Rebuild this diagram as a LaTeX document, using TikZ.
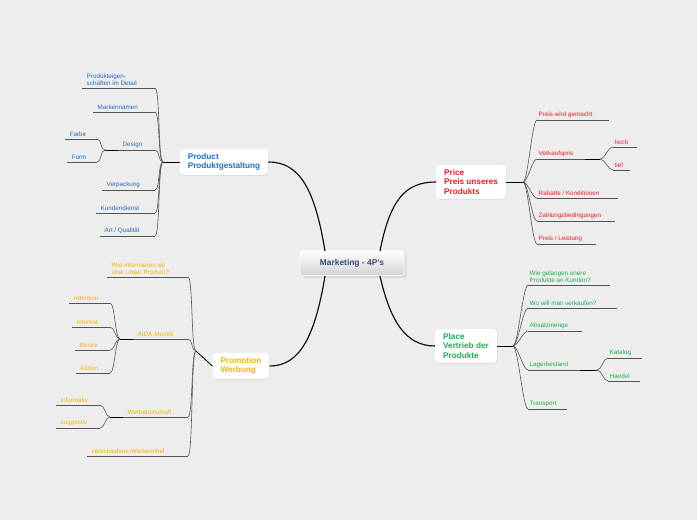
\documentclass[tikz,border=0pt]{standalone}
\usepackage{fontspec}
\setmainfont{Liberation Sans}
\usetikzlibrary{shadows,calc}
\definecolor{cbg}{HTML}{EDEDED}
\definecolor{cprod}{HTML}{1F6FC0}
\definecolor{cprice}{HTML}{EE1C24}
\definecolor{cprom}{HTML}{F7B500}
\definecolor{cplace}{HTML}{1DB04E}
\definecolor{cline}{HTML}{555555}
\definecolor{cnavy}{HTML}{3A4A7A}
\tikzset{
 leaf/.style={font=\fontsize{6.3}{7.5}\selectfont, inner sep=0.5pt},
 mainbox/.style={draw=none, fill=white, rounded corners=4pt, font=\bfseries\fontsize{8.2}{9.4}\selectfont, align=left, inner xsep=8pt, inner ysep=4.5pt, drop shadow={opacity=0.18, shadow xshift=0.5pt, shadow yshift=-0.8pt}},
 brl/.style={cline, line width=0.6pt},
 mainl/.style={black, line width=1.1pt},
}
% leaf: name, xleft, xright, y, text, colour, junction
\newcommand\Lleaf[7]{%
 \coordinate (#1s) at (#2,#4); \coordinate (#1e) at (#3,#4);
 \node[leaf, text=#6, anchor=south west, align=left] (#1) at (#2+4,#4-1.5) {#5};
 \draw[brl] (#1s) -- (#1e);
 \draw[brl] (#7) .. controls ($(#7)+(-5,0)$) and ($(#1e)+(5,0)$) .. (#1e);}
\newcommand\Rleaf[7]{%
 \coordinate (#1s) at (#2,#4); \coordinate (#1e) at (#3,#4);
 \node[leaf, text=#6, anchor=south west, align=left] (#1) at (#2+1,#4-1.5) {#5};
 \draw[brl] (#1s) -- (#1e);
 \draw[brl] (#7) .. controls ($(#7)+(5,0)$) and ($(#1s)+(-5,0)$) .. (#1s);}
\begin{document}
\begin{tikzpicture}[x=1pt,y=-1pt]
\fill[cbg] (0,0) rectangle (697,520);
\useasboundingbox (0,0) rectangle (697,520);
\node[draw=white, line width=0.5pt, rounded corners=3pt, top color=white, bottom color=gray!35, minimum width=104pt, minimum height=25pt, font=\bfseries\fontsize{8.4}{9}\selectfont, text=cnavy, drop shadow={opacity=0.15}] (c) at (352,263) {Marketing - 4P's};
\node[mainbox, text=cprod] (prod) at (224,162) {Product\\Produktgestaltung};
\node[mainbox, text=cprice] (price) at (471,182) {Price\\Preis unseres\\Produkts};
\node[mainbox, text=cprom] (prom) at (241,366) {Promotion\\Werbung};
\node[mainbox, text=cplace] (place) at (466,346) {Place\\Vertrieb der\\Produkte};
\coordinate (c1) at (325,251); \coordinate (c2) at (380,251);
\coordinate (c3) at (325,276); \coordinate (c4) at (380,276);
\draw[mainl] (c1) .. controls (315,190) and (300,162) .. (prod.east);
\draw[mainl] (c2) .. controls (390,200) and (405,182) .. (price.west);
\draw[mainl] (c3) .. controls (315,336) and (300,366) .. (prom.east);
\draw[mainl] (c4) .. controls (390,320) and (405,346) .. (place.west);
\coordinate (pj) at (163,162); \draw[mainl, line width=0.8pt] (prod.west) -- (pj);
\coordinate (rj) at (523,182); \draw[mainl, line width=0.8pt] (price.east) -- (rj);
\coordinate (mj) at (196,351); \draw[mainl, line width=0.8pt] (prom.west) -- (mj);
\coordinate (lj) at (513,346); \draw[mainl, line width=0.8pt] (place.east) -- (lj);
% Product
\Lleaf{p1}{82}{155}{88}{Produkteigen-\\schaften im Detail}{cprod}{pj}
\Lleaf{p2}{93}{155}{112}{Markennamen}{cprod}{pj}
\Lleaf{p3}{118}{155}{150}{Design}{cprod}{pj}
\Lleaf{p4}{102}{155}{190}{Verpackung}{cprod}{pj}
\Lleaf{p5}{96}{155}{213}{Kundendienst}{cprod}{pj}
\Lleaf{p6}{100}{155}{236}{Art / Qualität}{cprod}{pj}
\coordinate (dj) at (105,150); \draw[mainl,line width=0.8pt] (p3s) -- (dj);
\Lleaf{p31}{65}{97}{139}{Farbe}{cprod}{dj}
\Lleaf{p32}{67}{97}{162}{Form}{cprod}{dj}
% Promotion
\Lleaf{m1}{107}{188}{277}{Wie informieren wir\\über unser Produkt?}{cprom}{mj}
\Lleaf{m2}{133}{188}{339}{AIDA-Modell}{cprom}{mj}
\Lleaf{m3}{123}{188}{417}{Werbebotschaft}{cprom}{mj}
\Lleaf{m4}{87}{188}{456}{verschiedene Werbemittel}{cprom}{mj}
\coordinate (aj) at (120,339); \draw[mainl,line width=0.8pt] (m2s) -- (aj);
\Lleaf{m21}{69}{110}{303}{Attention}{cprom}{aj}
\Lleaf{m22}{72}{110}{327}{Interest}{cprom}{aj}
\Lleaf{m23}{75}{110}{350}{Desire}{cprom}{aj}
\Lleaf{m24}{76}{110}{373}{Action}{cprom}{aj}
\coordinate (wj) at (110,417); \draw[mainl,line width=0.8pt] (m3s) -- (wj);
\Lleaf{m31}{56}{100}{405}{informativ}{cprom}{wj}
\Lleaf{m32}{56}{100}{428}{suggestiv}{cprom}{wj}
% Price
\Rleaf{r1}{537}{609}{120}{Preis wird gemacht}{cprice}{rj}
\Rleaf{r2}{537}{585}{159}{Verkaufspris}{cprice}{rj}
\Rleaf{r3}{537}{618}{198}{Rabatte / Konditionen}{cprice}{rj}
\Rleaf{r4}{537}{615}{221}{Zahlungsbedingungen}{cprice}{rj}
\Rleaf{r5}{537}{596}{244}{Preis / Leistung}{cprice}{rj}
\coordinate (vj) at (600,159); \draw[mainl,line width=0.8pt] (r2e) -- (vj);
\Rleaf{r21}{613}{637}{147}{hoch}{cprice}{vj}
\Rleaf{r22}{613}{630}{170}{tief}{cprice}{vj}
% Place
\Rleaf{l1}{528}{610}{285}{Wie gelangen unere\\Produkte an Kunden?}{cplace}{lj}
\Rleaf{l2}{528}{617}{308}{Wo will man verkaufen?}{cplace}{lj}
\Rleaf{l3}{528}{582}{331}{Absatzmenge}{cplace}{lj}
\Rleaf{l4}{528}{580}{370}{Lagerbestand}{cplace}{lj}
\Rleaf{l5}{528}{567}{409}{Transport}{cplace}{lj}
\coordinate (gj) at (597,370); \draw[mainl,line width=0.8pt] (l4e) -- (gj);
\Rleaf{l41}{608}{642}{358}{Katalog}{cplace}{gj}
\Rleaf{l42}{608}{640}{381}{Handel}{cplace}{gj}
\end{tikzpicture}
\end{document}
